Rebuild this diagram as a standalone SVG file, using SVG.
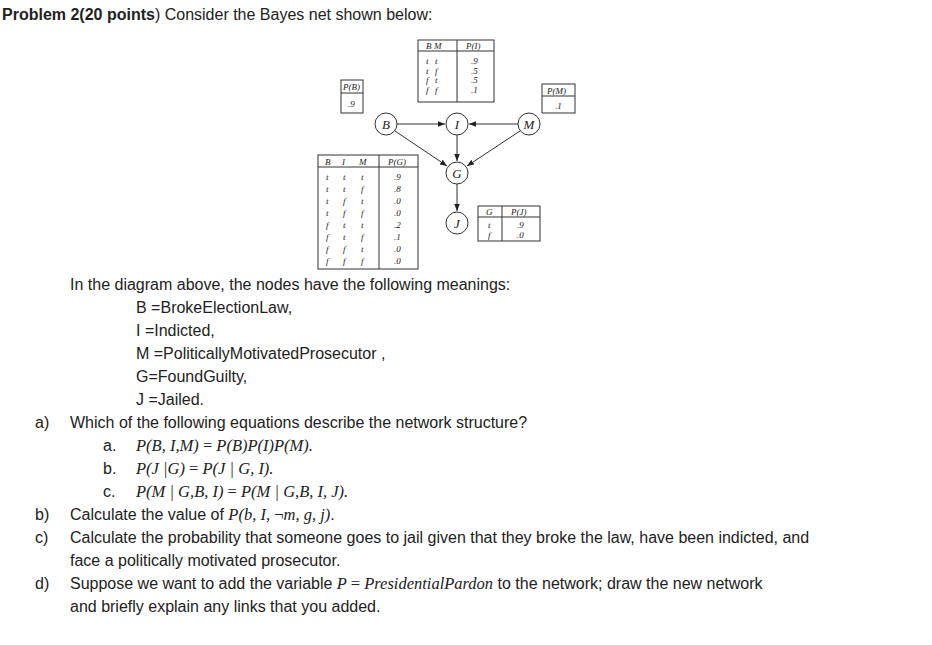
<svg xmlns="http://www.w3.org/2000/svg" width="932" height="645" viewBox="0 0 932 645">
<defs>
<marker id="ah" viewBox="0 0 10 10" refX="10" refY="5" markerWidth="7" markerHeight="7" orient="auto"><path d="M0,1 L10,5 L0,9 z" fill="#222"/></marker>
<style>
.t{font-family:"Liberation Sans",Arial,sans-serif;font-size:16px;fill:#222}
.m{font-family:"Liberation Serif",serif;font-style:italic;font-size:16.5px;fill:#222}
.s{font-family:"Liberation Serif",serif;font-style:italic;font-size:9px;fill:#222}
.n{font-family:"Liberation Serif",serif;font-style:italic;font-size:13px;fill:#222;text-anchor:middle}
.box{fill:#fff;stroke:#333;stroke-width:1}
.node{fill:#fff;stroke:#333;stroke-width:1}
.e{stroke:#333;stroke-width:1;fill:none;marker-end:url(#ah)}
</style>
</defs>
<rect width="932" height="645" fill="#fff"/>
<text class="t" x="2" y="20"><tspan font-weight="bold">Problem 2(20 points</tspan>) Consider the Bayes net shown below:</text>

<g id="cptI"><rect class="box" x="418" y="40" width="76" height="62"/><line x1="418" y1="51" x2="494" y2="51" stroke="#333"/><line x1="457" y1="40" x2="457" y2="102" stroke="#333"/>
<text class="s" x="426" y="49">B</text><text class="s" x="434" y="49">M</text><text class="s" x="466" y="49">P(I)</text>
<text class="s" x="426" y="64">t</text><text class="s" x="435" y="64">t</text><text class="s" x="471" y="64">.9</text>
<text class="s" x="426" y="74">t</text><text class="s" x="435" y="74">f</text><text class="s" x="471" y="74">.5</text>
<text class="s" x="426" y="83">f</text><text class="s" x="435" y="83">t</text><text class="s" x="471" y="83">.5</text>
<text class="s" x="426" y="93">f</text><text class="s" x="435" y="93">f</text><text class="s" x="471" y="93">.1</text></g>

<g id="cptB"><rect class="box" x="341" y="80" width="22" height="33"/><line x1="341" y1="93" x2="363" y2="93" stroke="#333"/>
<text class="s" x="343" y="90">P(B)</text><text class="s" x="348" y="107">.9</text></g>

<g id="cptM"><rect class="box" x="542" y="84" width="33" height="29"/><line x1="542" y1="96" x2="575" y2="96" stroke="#333"/>
<text class="s" x="547" y="94">P(M)</text><text class="s" x="555" y="109">.1</text></g>

<g id="cptG"><rect class="box" x="318" y="155" width="100" height="114"/><line x1="318" y1="167" x2="418" y2="167" stroke="#333"/><line x1="379" y1="155" x2="379" y2="269" stroke="#333"/>
<text class="s" x="325" y="165">B</text><text class="s" x="342" y="165">I</text><text class="s" x="359" y="165">M</text><text class="s" x="388" y="165">P(G)</text>
<g id="gcols">
<text class="s" x="326" y="180">t</text><text class="s" x="343" y="180">t</text><text class="s" x="361" y="180">t</text><text class="s" x="394" y="180">.9</text>
<text class="s" x="326" y="192">t</text><text class="s" x="343" y="192">t</text><text class="s" x="361" y="192">f</text><text class="s" x="394" y="192">.8</text>
<text class="s" x="326" y="204">t</text><text class="s" x="343" y="204">f</text><text class="s" x="361" y="204">t</text><text class="s" x="394" y="204">.0</text>
<text class="s" x="326" y="216">t</text><text class="s" x="343" y="216">f</text><text class="s" x="361" y="216">f</text><text class="s" x="394" y="216">.0</text>
<text class="s" x="326" y="228">f</text><text class="s" x="343" y="228">t</text><text class="s" x="361" y="228">t</text><text class="s" x="394" y="228">.2</text>
<text class="s" x="326" y="240">f</text><text class="s" x="343" y="240">t</text><text class="s" x="361" y="240">f</text><text class="s" x="394" y="240">.1</text>
<text class="s" x="326" y="252">f</text><text class="s" x="343" y="252">f</text><text class="s" x="361" y="252">t</text><text class="s" x="394" y="252">.0</text>
<text class="s" x="326" y="264">f</text><text class="s" x="343" y="264">f</text><text class="s" x="361" y="264">f</text><text class="s" x="394" y="264">.0</text>
</g></g>

<g id="cptJ"><rect class="box" x="478" y="206" width="62" height="35"/><line x1="478" y1="217" x2="540" y2="217" stroke="#333"/><line x1="502" y1="206" x2="502" y2="241" stroke="#333"/>
<text class="s" x="486" y="215">G</text><text class="s" x="511" y="215">P(J)</text>
<text class="s" x="488" y="228">t</text><text class="s" x="517" y="228">.9</text>
<text class="s" x="488" y="238">f</text><text class="s" x="517" y="238">.0</text></g>

<g id="edges">
<line class="e" x1="397" y1="124" x2="445" y2="124"/>
<line class="e" x1="518" y1="124" x2="469" y2="124"/>
<line class="e" x1="395" y1="131" x2="447" y2="166"/>
<line class="e" x1="520" y1="131" x2="467" y2="166"/>
<line class="e" x1="457" y1="135" x2="457" y2="161"/>
<line class="e" x1="457" y1="184" x2="457" y2="211"/>
</g>
<g id="B"><circle class="node" cx="386" cy="124" r="11"/><text class="n" x="386" y="129">B</text></g>
<g id="I"><circle class="node" cx="457" cy="124" r="11"/><text class="n" x="457" y="129">I</text></g>
<g id="M"><circle class="node" cx="529" cy="124" r="11"/><text class="n" x="529" y="129">M</text></g>
<g id="G"><circle class="node" cx="457" cy="173" r="11"/><text class="n" x="457" y="178">G</text></g>
<g id="J"><circle class="node" cx="457" cy="223" r="11"/><text class="n" x="457" y="228">J</text></g>

<text class="t" x="70" y="290">In the diagram above, the nodes have the following meanings:</text>
<text class="t" x="136" y="313">B =BrokeElectionLaw,</text>
<text class="t" x="136" y="336">I =Indicted,</text>
<text class="t" x="136" y="359">M =PoliticallyMotivatedProsecutor ,</text>
<text class="t" x="136" y="382">G=FoundGuilty,</text>
<text class="t" x="136" y="405">J =Jailed.</text>
<text class="t" x="35" y="428">a)</text><text class="t" x="70" y="428">Which of the following equations describe the network structure?</text>
<text class="t" x="103" y="451">a.</text><text class="m" x="136" y="451">P(B, I,M)  <tspan font-style="normal">=</tspan>  P(B)P(I)P(M).</text>
<text class="t" x="103" y="474">b.</text><text class="m" x="136" y="474">P(J |G)  <tspan font-style="normal">=</tspan>  P(J | G, I).</text>
<text class="t" x="103" y="497">c.</text><text class="m" x="136" y="497">P(M | G,B, I)  <tspan font-style="normal">=</tspan>  P(M | G,B, I, J).</text>
<text class="t" x="35" y="520">b)</text><text class="t" x="70" y="520">Calculate the value of <tspan class="m">P(b, I, <tspan font-style="normal">¬</tspan>m, g, j)</tspan>.</text>
<text class="t" x="35" y="543">c)</text><text class="t" x="70" y="543">Calculate the probability that someone goes to jail given that they broke the law, have been indicted, and</text>
<text class="t" x="70" y="566">face a politically motivated prosecutor.</text>
<text class="t" x="35" y="589">d)</text><text class="t" x="70" y="589">Suppose we want to add the variable <tspan class="m">P <tspan font-style="normal">=</tspan> PresidentialPardon</tspan> to the network; draw the new network</text>
<text class="t" x="70" y="612">and briefly explain any links that you added.</text>
</svg>
